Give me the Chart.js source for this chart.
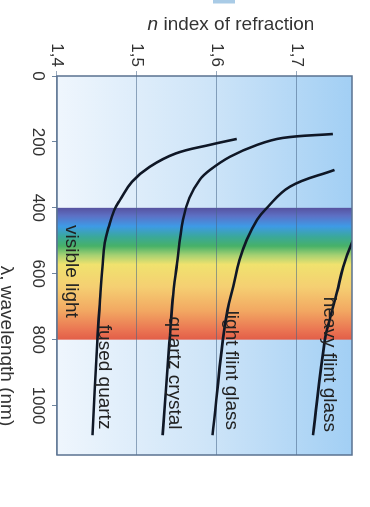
<!DOCTYPE html>
<html>
<head>
<meta charset="utf-8">
<script src="https://cdn.jsdelivr.net/npm/chart.js@4"></script>
<style>
  html, body { margin: 0; padding: 0; background: #fff; }
  body { width: 370px; height: 507px; position: relative; overflow: hidden; }
  /* the chart is drawn lying on its side and turned a quarter clockwise */
  #wrap { position: absolute; left: 0; top: 0; width: 507px; height: 370px;
          transform-origin: 0 0; transform: translate(370px, 0) rotate(90deg); }
</style>
</head>
<body>
<div id="wrap"><canvas id="refractionChart" width="507" height="370"></canvas></div>
<script>
// wavelength in nm, index of refraction n
const wavelengthTicks = [0, 200, 400, 600, 800, 1000];
const indexTicks = [1.4, 1.5, 1.6, 1.7];
const visibleRange = [400, 800];

const fusedQuartzWl = [191, 209, 235, 276, 321, 376, 406, 458, 506, 579, 679, 809, 1090];
const fusedQuartzN  = [1.6255, 1.5915, 1.549, 1.516, 1.494, 1.479, 1.472, 1.465, 1.460, 1.457, 1.454, 1.4505, 1.4445];

const quartzCrystalWl = [176, 188, 209, 245, 285, 315, 370, 436, 579, 679, 809, 1090];
const quartzCrystalN  = [1.746, 1.683, 1.651, 1.617, 1.592, 1.579, 1.566, 1.558, 1.550, 1.545, 1.541, 1.5325];

const lightFlintWl = [285, 336, 406, 436, 497, 558, 639, 709, 800, 1090];
const lightFlintN  = [1.748, 1.692, 1.661, 1.651, 1.638, 1.629, 1.621, 1.614, 1.608, 1.595];

const heavyFlintWl = [470, 506, 579, 658, 739, 800, 1090];
const heavyFlintN  = [1.779, 1.770, 1.759, 1.751, 1.742, 1.736, 1.721];

const curveLabels = [
  { text: 'visible light',     wl: 452, n: 1.4175 },
  { text: 'fused quartz',      wl: 755, n: 1.459 },
  { text: 'quartz crystal',    wl: 730, n: 1.5475 },
  { text: 'light flint glass', wl: 712, n: 1.618 },
  { text: 'heavy flint glass', wl: 670, n: 1.741 }
];

const FONT = "'Liberation Sans', Arial, sans-serif";

function points(wl, n) {
  return wl.map((w, i) => ({ x: w, y: n[i] }));
}

function curve(label, wl, n) {
  return {
    label: label,
    data: points(wl, n),
    borderColor: '#0f1726',
    borderWidth: 2.6,
    pointRadius: 0,
    tension: 0.4,
    fill: false,
    clip: 0
  };
}

// background gradient and the visible light band
const backdrop = {
  id: 'backdrop',
  beforeDraw(chart) {
    const { ctx, chartArea: a, scales } = chart;
    ctx.save();
    const bg = ctx.createLinearGradient(0, a.bottom, 0, a.top);
    bg.addColorStop(0, '#eff6fd');
    bg.addColorStop(0.5, '#cfe5f8');
    bg.addColorStop(1, '#a2cff4');
    ctx.fillStyle = bg;
    ctx.fillRect(a.left, a.top, a.right - a.left, a.bottom - a.top);

    const x0 = scales.x.getPixelForValue(visibleRange[0]);
    const x1 = scales.x.getPixelForValue(visibleRange[1]);
    const band = ctx.createLinearGradient(x0, 0, x1, 0);
    band.addColorStop(0, '#56529f');
    band.addColorStop(0.06, '#5d70c4');
    band.addColorStop(0.14, '#3e9ae6');
    band.addColorStop(0.22, '#3aa89a');
    band.addColorStop(0.29, '#47b168');
    band.addColorStop(0.36, '#a6d172');
    band.addColorStop(0.43, '#f0e26e');
    band.addColorStop(0.6, '#f5cf72');
    band.addColorStop(0.78, '#f2a862');
    band.addColorStop(0.93, '#ea7452');
    band.addColorStop(1, '#e25e48');
    ctx.fillStyle = band;
    ctx.fillRect(x0, a.top, x1 - x0, a.bottom - a.top);
    ctx.restore();
  },
  afterDraw(chart) {
    const { ctx, chartArea: a, scales } = chart;
    ctx.save();
    // frame
    ctx.strokeStyle = '#5a7290';
    ctx.lineWidth = 1.5;
    ctx.strokeRect(a.left, a.top, a.right - a.left, a.bottom - a.top);

    // curve labels
    ctx.fillStyle = '#222';
    ctx.font = '19px ' + FONT;
    ctx.textBaseline = 'middle';
    ctx.textAlign = 'left';
    curveLabels.forEach(l => {
      ctx.fillText(l.text, scales.x.getPixelForValue(l.wl), scales.y.getPixelForValue(l.n));
    });

    // axis titles
    ctx.fillStyle = '#333';
    ctx.textBaseline = 'alphabetic';
    ctx.textAlign = 'center';
    ctx.font = '19px ' + FONT;
    ctx.fillText('λ, wavelength (nm)', 346, 369);

    ctx.translate(30, 139);
    ctx.rotate(-Math.PI / 2);
    ctx.textAlign = 'left';
    ctx.font = 'italic 19px ' + FONT;
    const wN = ctx.measureText('n').width;
    ctx.font = '19px ' + FONT;
    const wRest = ctx.measureText(' index of refraction').width;
    const start = -(wN + wRest) / 2;
    ctx.font = 'italic 19px ' + FONT;
    ctx.fillText('n', start, 0);
    ctx.font = '19px ' + FONT;
    ctx.fillText(' index of refraction', start + wN, 0);
    ctx.restore();

    // small tab at the top edge
    ctx.save();
    ctx.fillStyle = '#a9cbe6';
    ctx.fillRect(0, 135, 3.5, 22);
    ctx.restore();
  }
};

const ctx = document.getElementById('refractionChart').getContext('2d');

const refractionChart = new Chart(ctx, {
  type: 'line',
  data: {
    datasets: [
      curve('fused quartz', fusedQuartzWl, fusedQuartzN),
      curve('quartz crystal', quartzCrystalWl, quartzCrystalN),
      curve('light flint glass', lightFlintWl, lightFlintN),
      curve('heavy flint glass', heavyFlintWl, heavyFlintN)
    ]
  },
  options: {
    responsive: false,
    animation: false,
    devicePixelRatio: 1,
    layout: { padding: { top: 18, right: 52, left: 0, bottom: 0 } },
    plugins: { legend: { display: false }, tooltip: { enabled: false } },
    scales: {
      x: {
        type: 'linear',
        min: 0,
        max: 1150,
        afterFit: s => { s.height = 57; },
        afterBuildTicks: s => { s.ticks = wavelengthTicks.map(v => ({ value: v })); },
        grid: { drawOnChartArea: false, drawTicks: true, tickLength: 5, color: '#6f86a0' },
        border: { display: false },
        ticks: {
          color: '#333',
          padding: 4,
          maxRotation: 0,
          font: { family: FONT, size: 17 },
          callback: v => String(v)
        }
      },
      y: {
        type: 'linear',
        min: 1.4,
        max: 1.77,
        afterFit: s => { s.width = 76; },
        afterBuildTicks: s => { s.ticks = indexTicks.map(v => ({ value: v })); },
        grid: { color: 'rgba(70,100,135,0.55)', lineWidth: 1, tickLength: 5 },
        border: { display: false },
        ticks: {
          color: '#333',
          padding: 4,
          font: { family: FONT, size: 17 },
          callback: v => v.toFixed(1).replace('.', ',')
        }
      }
    }
  },
  plugins: [backdrop]
});
</script>
</body>
</html>
